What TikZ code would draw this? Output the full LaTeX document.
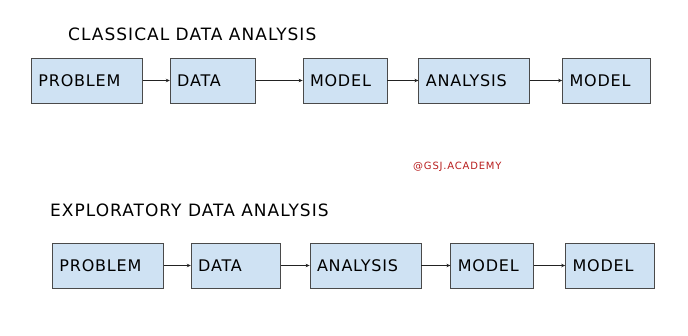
\documentclass[tikz,border=0pt]{standalone}
\usepackage{fontspec}
\setmainfont{DejaVu Sans}
\newfontfamily\stagefont[LetterSpace=5]{DejaVu Sans}
\newfontfamily\headfont[LetterSpace=6]{DejaVu Sans}
\newfontfamily\tagfont[LetterSpace=8]{DejaVu Sans}
\usetikzlibrary{arrows.meta,positioning}
\definecolor{edafill}{HTML}{CFE2F3}
\definecolor{edaline}{HTML}{4A4A4A}
\definecolor{edadark}{HTML}{222222}
\definecolor{edared}{HTML}{B81E1E}
\tikzset{
  stage/.style={draw=edaline,fill=edafill,line width=0.8pt,anchor=west,
                minimum height=45pt,inner xsep=7pt,align=left,text width=#1,
                font=\stagefont\fontsize{16}{19}\selectfont},
  heading/.style={anchor=west,inner sep=0pt,font=\headfont\fontsize{17}{20}\selectfont},
  wmark/.style={anchor=west,inner sep=0pt,text=edared,font=\tagfont\fontsize{10}{12}\selectfont},
  ar/.style={-{Stealth[length=4pt,width=3.5pt]},line width=0.7pt,edadark},
}
\begin{document}
\begin{tikzpicture}[x=1pt,y=1pt]
    \useasboundingbox (0,0) rectangle (688,-335);
    % classical
    \node[heading] (ctitle) at (68,-34) {CLASSICAL DATA ANALYSIS};
    \node[stage=97pt] (cprob) at (31,-80.5) {PROBLEM};
    \node[stage=71pt,right=27pt of cprob] (cdata) {DATA};
    \node[stage=70pt,right=47pt of cdata] (cmodel) {MODEL};
    \node[stage=97pt,right=31pt of cmodel] (cana) {ANALYSIS};
    \node[stage=74pt,right=32pt of cana] (cfinal) {MODEL};
    \draw[ar](cprob)--(cdata);\draw[ar](cdata)--(cmodel);
    \draw[ar](cmodel)--(cana);\draw[ar](cana)--(cfinal);
    \node[wmark] (tag) at (413,-167) {@GSJ.ACADEMY};
    % exploratory
    \node[heading] (etitle) at (50,-210) {EXPLORATORY DATA ANALYSIS};
    \node[stage=97pt] (eprob) at (52,-265.5) {PROBLEM};
    \node[stage=75pt,right=27pt of eprob] (edata) {DATA};
    \node[stage=97pt,right=29pt of edata] (eana) {ANALYSIS};
    \node[stage=69pt,right=29pt of eana] (emodel) {MODEL};
    \node[stage=75pt,right=31pt of emodel] (efinal) {MODEL};
    \draw[ar](eprob)--(edata);\draw[ar](edata)--(eana);
    \draw[ar](eana)--(emodel);\draw[ar](emodel)--(efinal);
\end{tikzpicture}
\end{document}
